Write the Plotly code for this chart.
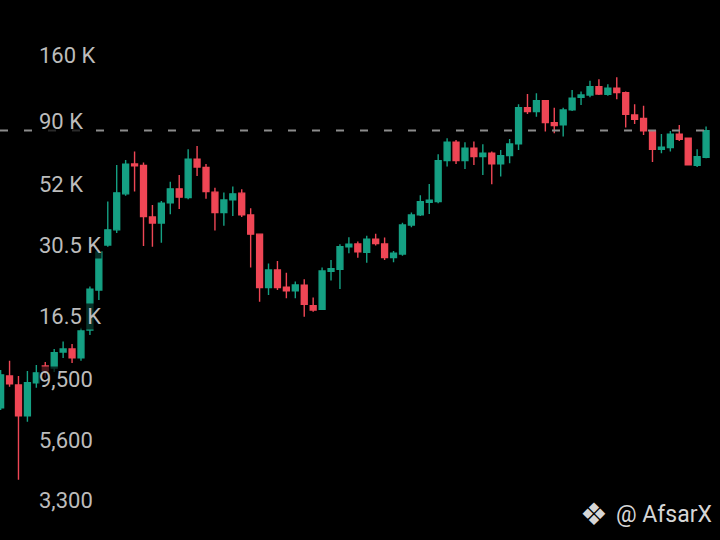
import math
import plotly.graph_objects as go

opens = [7300, 9650, 8920, 6820, 9080, 10530, 10340, 11890, 12210, 11290,
         14410, 20400, 30250, 34500, 47220, 61320, 60530, 38620, 36630, 43640,
         49330, 45720, 63900, 59440, 47930, 40100, 44800, 47510, 39300, 33230,
         20850, 24300, 20920, 20280, 21290, 17790, 17240, 24030, 24440, 29790,
         30520, 28380, 31790, 30520, 27070, 27960, 36000, 39300, 43910, 44140,
         63110, 74100, 63110, 70330, 65350, 67330, 61320, 65940, 73010, 100150,
         96760, 106450, 87900, 86170, 98200, 109600, 111900, 120300, 112600, 118600,
         114200, 94020, 91120, 81780, 69720, 70690, 79460, 76730, 60530, 65010]

highs = [10170, 11020, 9650, 10080, 10620, 10900, 12210, 13020, 12760, 14700,
         21030, 28950, 44140, 60800, 63500, 68280, 62020, 42890, 44410, 52520,
         55720, 69720, 71760, 61320, 49840, 47770, 50320, 49200, 41660, 33330,
         25750, 26270, 23730, 21970, 22440, 19140, 24870, 26500, 30440, 32370,
         31140, 32740, 33330, 32260, 28700, 36720, 40100, 46670, 51470, 66750,
         76730, 75600, 74100, 74490, 72820, 68280, 69300, 76270, 103200, 112900,
         113600, 107100, 100150, 100150, 116900, 115200, 126700, 128300, 122800, 130500,
         115200, 103200, 101900, 82500, 79670, 81780, 86170, 77200, 69720, 84890]

lows = [7170, 8780, 3900, 6470, 8700, 9490, 9990, 11290, 10800, 11020,
        13800, 18700, 29790, 33600, 46410, 48180, 29990, 29790, 30860, 39540,
        41410, 45090, 55240, 45210, 34290, 35770, 38960, 38620, 24870, 18430,
        19530, 20400, 18980, 18980, 16180, 16900, 17150, 22160, 20580, 28130,
        27070, 25880, 30070, 26500, 25980, 27550, 35280, 38960, 39640, 43530,
        59890, 61320, 58710, 60800, 55720, 51340, 54890, 61700, 69300, 94840,
        92620, 81290, 80160, 77820, 97350, 102500, 109600, 111900, 111200, 107750,
        84160, 86910, 78980, 62400, 67330, 68280, 74940, 60530, 59650, 64450]

closes = [9740, 9000, 6820, 9100, 9910, 10080, 11820, 12210, 11290, 14280,
          20580, 28450, 34500, 47640, 61160, 60270, 38720, 36630, 43530, 49330,
          45880, 63900, 59650, 48180, 40100, 44800, 47220, 39300, 33230, 20850,
          24300, 20850, 20280, 21350, 18010, 17150, 24090, 24570, 29790, 30440,
          28520, 31790, 30600, 27070, 28130, 36000, 39300, 44140, 44680, 63110,
          74100, 63110, 70330, 65350, 67330, 61320, 65940, 73010, 100150, 96760,
          106450, 87900, 85640, 98200, 108700, 111900, 120300, 112900, 118600, 114200,
          94590, 90550, 81780, 69720, 70940, 79460, 76070, 60800, 65350, 82000]

periods = list(range(len(opens)))

tick_values = [160000, 90000, 52000, 30500, 16500, 9500, 5600, 3300]
tick_labels = ["160 K", "90 K", "52 K", "30.5 K", "16.5 K", "9,500", "5,600", "3,300"]

watermark = "@ AfsarX"

GREEN = "#15A083"
RED = "#EF4655"
LABEL = "#bcbcbc"

x_range = [-0.07, 80.56]
y_range_log = [3.363, 5.4085]

fig = go.Figure()
fig.add_trace(go.Candlestick(
    x=periods, open=opens, high=highs, low=lows, close=closes,
    increasing=dict(line=dict(color=GREEN, width=1.4), fillcolor=GREEN),
    decreasing=dict(line=dict(color=RED, width=1.4), fillcolor=RED),
    whiskerwidth=0, hoverinfo="skip", showlegend=False,
))
fig.add_trace(go.Scatter(
    x=x_range, y=[closes[-1], closes[-1]], mode="lines",
    line=dict(color="#8c8c8c", width=2, dash="8px,16px"),
    hoverinfo="skip", showlegend=False,
))

annotations = []
for v, t in zip(tick_values, tick_labels):
    annotations.append(dict(
        x=38 / 720, xref="paper", xanchor="left",
        y=math.log10(v), yref="y", yanchor="middle", yshift=-2,
        text=t, showarrow=False,
        font=dict(family="Roboto", size=22, color=LABEL),
        bgcolor="rgba(0,0,0,0.7)", borderpad=0,
    ))
annotations.append(dict(
    x=610 / 720, xref="paper", xanchor="right",
    y=(540 - 514) / 540, yref="paper", yanchor="middle",
    text="❖", showarrow=False,
    font=dict(family="DejaVu Sans", size=31, color="#d6d6d6"),
))
annotations.append(dict(
    x=714 / 720, xref="paper", xanchor="right",
    y=(540 - 514) / 540, yref="paper", yanchor="middle",
    text=watermark, showarrow=False,
    font=dict(family="Roboto", size=23, color="#d6d6d6"),
))

fig.update_layout(
    width=720, height=540,
    margin=dict(l=0, r=0, t=0, b=0),
    paper_bgcolor="black", plot_bgcolor="black",
    boxgap=0.34, boxgroupgap=0,
    showlegend=False,
    xaxis=dict(range=x_range, visible=False, rangeslider=dict(visible=False), fixedrange=True),
    yaxis=dict(type="log", range=y_range_log, visible=False, fixedrange=True),
    annotations=annotations,
)

fig.write_html(
    "out.html",
    config={"displayModeBar": False},
    post_script="document.body.style.margin='0';document.body.style.background='black';document.body.style.overflow='hidden';",
)
